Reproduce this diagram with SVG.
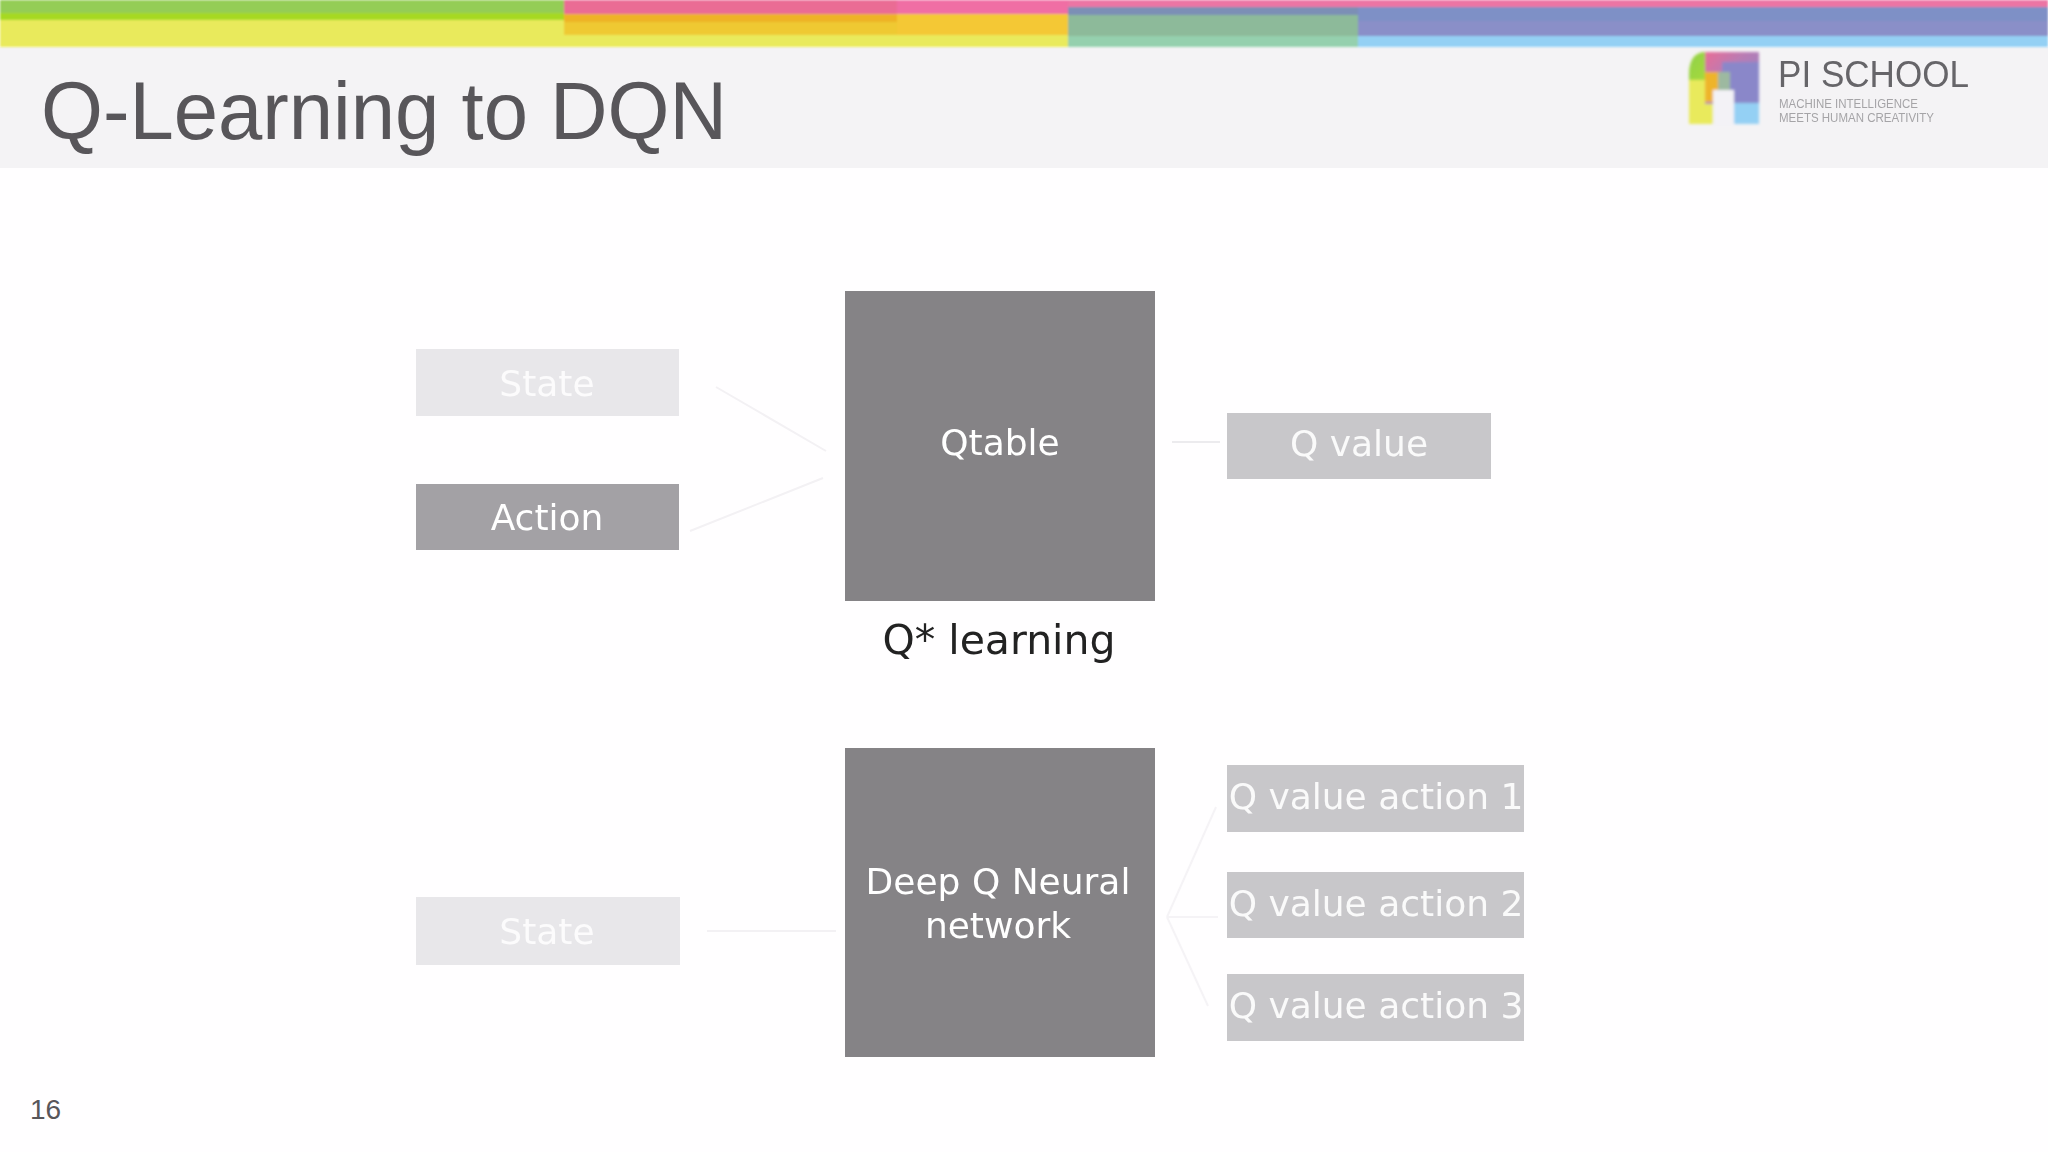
<svg xmlns="http://www.w3.org/2000/svg" width="2048" height="1152" viewBox="0 0 2048 1152">
<defs>
<filter id="soft" x="-5%" y="-5%" width="110%" height="110%"><feGaussianBlur stdDeviation="0.8"/></filter>
<filter id="logoBlur" x="-5%" y="-5%" width="110%" height="110%"><feGaussianBlur stdDeviation="1.6"/></filter>
<filter id="tb" x="-5%" y="-15%" width="110%" height="130%"><feGaussianBlur stdDeviation="0.5"/></filter>
<linearGradient id="logoG" x1="0" y1="0" x2="1" y2="1"><stop offset="0" stop-color="#8fd04a"/><stop offset="1" stop-color="#a9dc3a"/></linearGradient>
<linearGradient id="logoP" x1="0" y1="0" x2="1" y2="1"><stop offset="0" stop-color="#e96d96"/><stop offset="0.4" stop-color="#b87cb4"/><stop offset="1" stop-color="#8a87c9"/></linearGradient>
</defs>
<style>
.n{font-family:"DejaVu Sans",Verdana,sans-serif;fill:#fff;text-anchor:middle}
.t{font-size:36px}
.c{fill:none;stroke-width:2}
.h{font-family:"Liberation Sans",Arial,sans-serif}
</style>
<rect width="2048" height="1152" fill="#fffeff"/>
<g id="header">
<rect y="47" width="2048" height="121" fill="#f4f3f5"/>
<g filter="url(#soft)">
<rect width="2048" height="47" fill="#94d0f4"/>
<rect width="1071" height="47" fill="#e9ea5c"/>
<rect width="564" height="14" fill="#94cd57"/>
<rect y="13" width="564" height="7" fill="#a6d923"/>
<rect x="564" width="507" height="14" fill="#f06ea4"/>
<rect x="564" width="333" height="14" fill="#ea6c94"/>
<rect x="564" y="14" width="507" height="21" fill="#f4c835"/>
<rect x="564" y="14" width="333" height="8" fill="#eeb325"/>
<rect x="564" y="22" width="333" height="13" fill="#efc933"/>
<rect x="1068" y="0" width="980" height="36" fill="#8a8fc8"/>
<rect x="1068" y="7" width="980" height="14" fill="#7e90c6"/>
<rect x="1068" y="0" width="980" height="7" fill="#ec75a4"/>
<rect x="1068" y="15" width="290" height="21" fill="#8dba9a"/>
<rect x="1068" y="36" width="290" height="11" fill="#95d0ae"/>
<rect x="1068" y="7" width="290" height="8" fill="#7c8fb5"/>
</g>
<text class="h" x="41" y="139" font-size="81" fill="#58565a" textLength="686" lengthAdjust="spacingAndGlyphs">Q-Learning to DQN</text>
</g>
<g id="logo">
<g filter="url(#logoBlur)">
<path d="M1689 124V75Q1689 52 1706 52H1725V124Z" fill="#e9ea5c"/>
<path d="M1689 80V75Q1689 52 1706 52H1712V80Z" fill="url(#logoG)"/>
<rect x="1705" y="52" width="54" height="52" fill="url(#logoP)"/>
<rect x="1722" y="62" width="37" height="42" fill="#8a87c9"/>
<rect x="1705" y="72" width="13" height="30" fill="#eeb42c"/>
<rect x="1718" y="72" width="12" height="20" fill="#9db9a0"/>
<rect x="1733" y="103" width="26" height="21" fill="#94d0f4"/>
<rect x="1713" y="90" width="21" height="36" fill="#f3f2f6"/>
</g>
<text class="h" x="1778" y="87" font-size="36" fill="#666569" textLength="191" lengthAdjust="spacingAndGlyphs" filter="url(#tb)">PI SCHOOL</text>
<text class="h" x="1779" y="108" font-size="12" fill="#a5a4a7" textLength="139" lengthAdjust="spacingAndGlyphs" filter="url(#tb)">MACHINE INTELLIGENCE</text>
<text class="h" x="1779" y="122" font-size="12" fill="#a5a4a7" textLength="155" lengthAdjust="spacingAndGlyphs" filter="url(#tb)">MEETS HUMAN CREATIVITY</text>
</g>
<g id="connectors">
<line class="c" x1="716" y1="387" x2="826" y2="451" stroke="#f3f1f4"/>
<line class="c" x1="690" y1="531" x2="823" y2="478" stroke="#f3f1f4"/>
<line class="c" x1="1172" y1="442" x2="1220" y2="442" stroke="#ecebee"/>
<line class="c" x1="707" y1="931" x2="836" y2="931" stroke="#f3f1f4"/>
<line class="c" x1="1216" y1="807" x2="1167" y2="917" stroke="#f5f3f6"/>
<line class="c" x1="1167" y1="917" x2="1218" y2="917" stroke="#f5f3f6"/>
<line class="c" x1="1167" y1="917" x2="1208" y2="1006" stroke="#f5f3f6"/>
</g>
<g id="state1"><rect x="416" y="349" width="263" height="67" fill="#e8e7ea"/><text class="n t" x="547" y="396" fill-opacity=".85" filter="url(#tb)">State</text></g>
<g id="action"><rect x="416" y="484" width="263" height="66" fill="#a3a1a5"/><text class="n t" x="547" y="530" filter="url(#tb)">Action</text></g>
<g id="qtable"><rect x="845" y="291" width="310" height="310" fill="#858386"/><text class="n t" x="1000" y="455" filter="url(#tb)">Qtable</text></g>
<g id="qvalue"><rect x="1227" y="413" width="264" height="66" fill="#c8c7ca"/><text class="n t" x="1359" y="456" fill-opacity=".9" filter="url(#tb)">Q value</text></g>
<g id="qlearning"><text class="n" style="fill:#222" font-size="41" x="999" y="654" filter="url(#tb)">Q* learning</text></g>
<g id="state2"><rect x="416" y="897" width="264" height="68" fill="#e8e7ea"/><text class="n t" x="547" y="944" fill-opacity=".85" filter="url(#tb)">State</text></g>
<g id="dqn"><rect x="845" y="748" width="310" height="309" fill="#858386"/><text class="n t" x="998" y="894" filter="url(#tb)">Deep Q Neural</text><text class="n t" x="998" y="938" filter="url(#tb)">network</text></g>
<g id="qa1"><rect x="1227" y="765" width="297" height="67" fill="#c8c7ca"/><text class="n t" x="1376" y="809" fill-opacity=".9" filter="url(#tb)">Q value action 1</text></g>
<g id="qa2"><rect x="1227" y="872" width="297" height="66" fill="#c8c7ca"/><text class="n t" x="1376" y="916" fill-opacity=".9" filter="url(#tb)">Q value action 2</text></g>
<g id="qa3"><rect x="1227" y="974" width="297" height="67" fill="#c8c7ca"/><text class="n t" x="1376" y="1018" fill-opacity=".9" filter="url(#tb)">Q value action 3</text></g>
<g id="page"><text class="h" x="30" y="1119" font-size="28" fill="#58565a">16</text></g>
</svg>
